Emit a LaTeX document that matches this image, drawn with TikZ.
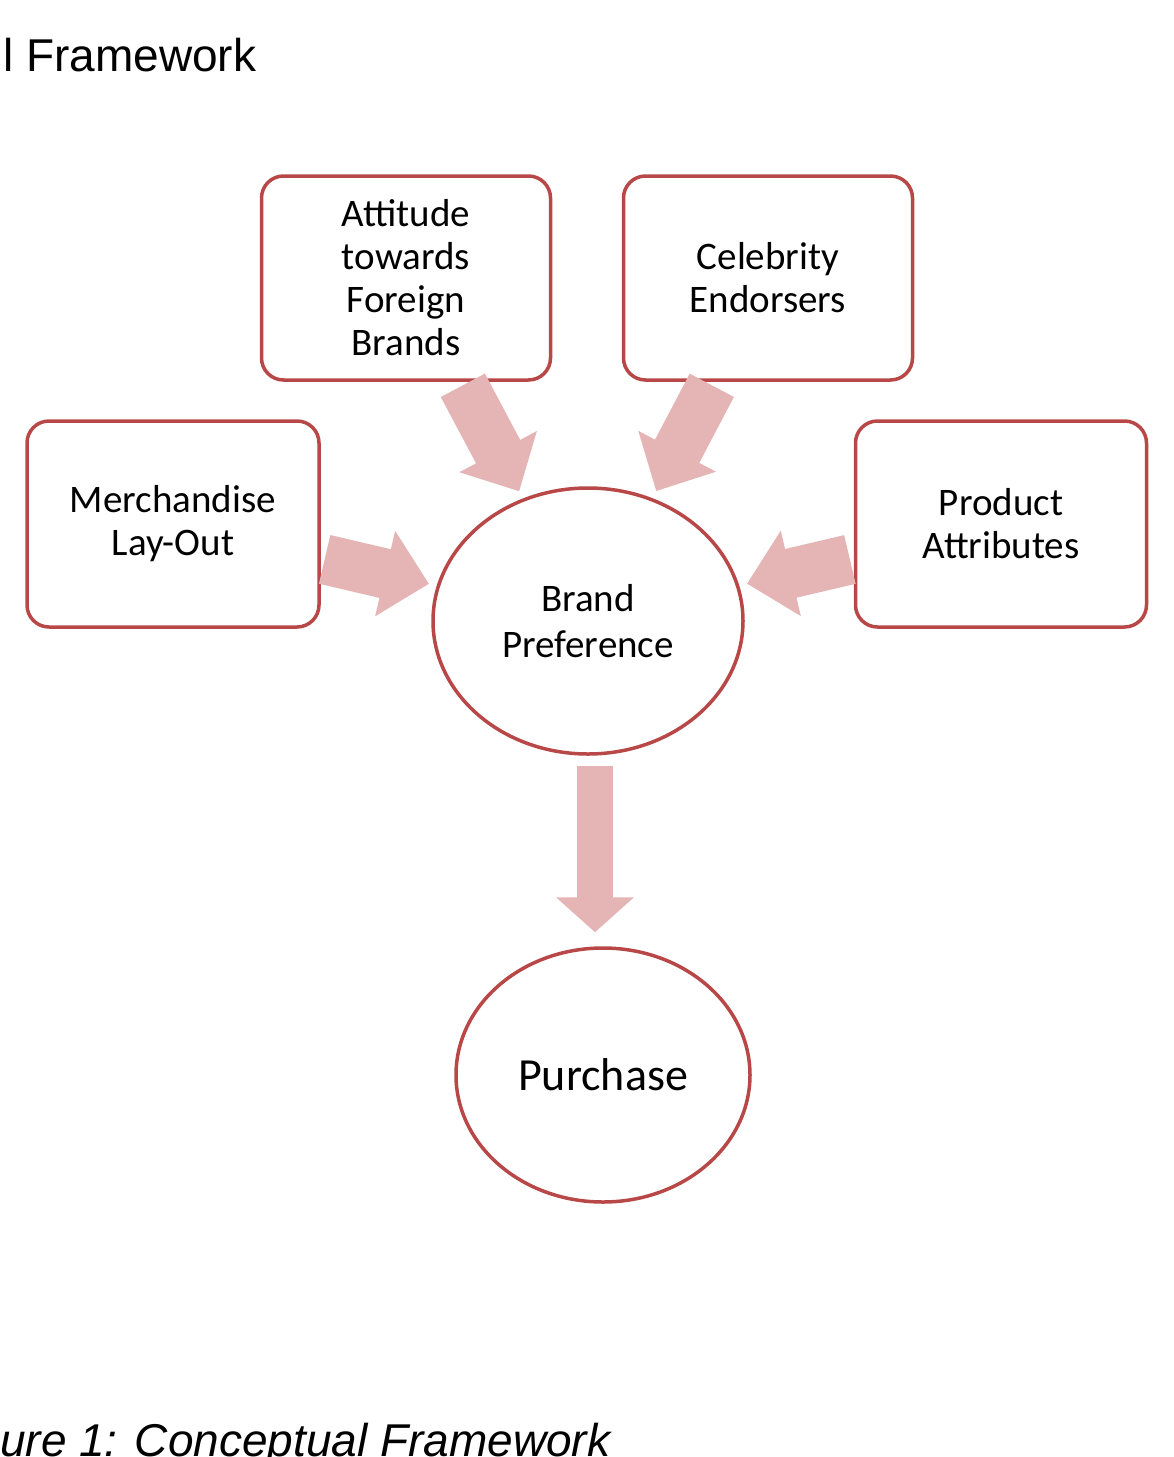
\documentclass[tikz,border=0pt]{standalone}
\usepackage{fontspec}
\setmainfont{Carlito}
\newfontfamily\arialfont{Liberation Sans}
\usetikzlibrary{arrows.meta,shapes.geometric}

\definecolor{boxred}{RGB}{184,72,72}
\definecolor{arrowpink}{RGB}{229,180,180}

\tikzset{
    factorbox/.style={draw=boxred, line width=3.5pt, rounded corners=22pt,
        minimum width=289pt, minimum height=204pt, align=center,
        font=\fontsize{39}{43}\selectfont},
    circlebox/.style={draw=boxred, line width=3.5pt, ellipse, align=center,
        font=\fontsize{39}{46}\selectfont},
    blockarrow/.style={draw=arrowpink, line width=50pt,
        -{Triangle[length=45pt,width=85pt]}, shorten <=4pt, shorten >=8pt},
}

\begin{document}
\begin{tikzpicture}[x=1pt,y=-1pt]
    \useasboundingbox (0,0) rectangle (1174,1457);

    % titles (cut off at the page edge)
    \node[anchor=west, font=\arialfont\fontsize{46}{50}\selectfont, inner sep=0pt] (title) at (3,55) {l Framework};
    \node[anchor=west, font=\arialfont\itshape\fontsize{46}{50}\selectfont, inner sep=0pt] (caption) at (0,1445) {ure 1: Conceptual Framework};

    % factors
    \node[factorbox] (attitude) at (406,278) {Attitude\\towards\\Foreign\\Brands};
    \node[factorbox] (celebrity) at (768,278) {Celebrity\\Endorsers};
    \node[factorbox, minimum width=292pt, minimum height=206pt] (merch) at (173,524) {Merchandise\\Lay-Out};
    \node[factorbox, minimum width=291pt, minimum height=206pt] (product) at (1001,524) {Product\\Attributes};

    % outcomes
    \node[circlebox, minimum width=310pt, minimum height=266pt] (brand) at (588,621) {Brand\\Preference};
    \node[circlebox, minimum width=294pt, minimum height=254pt, font=\fontsize{46}{50}\selectfont] (purchase) at (603,1075) {Purchase};

    % arrows
    \draw[blockarrow] (attitude) -- (brand);
    \draw[blockarrow] (celebrity) -- (brand);
    \draw[blockarrow] (merch) -- (brand);
    \draw[blockarrow] (product) -- (brand);
    \draw[blockarrow, line width=36pt, -{Triangle[length=35pt,width=76pt]}, shorten <=10pt, shorten >=14pt]
        ([xshift=7pt]brand.south) -- ([xshift=-8pt]purchase.north);
\end{tikzpicture}
\end{document}
